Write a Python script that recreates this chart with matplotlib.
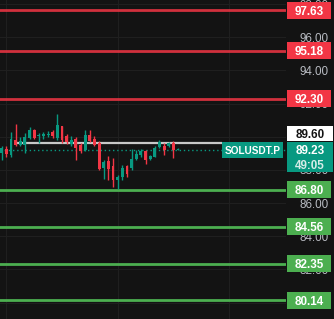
import matplotlib.pyplot as plt
from matplotlib.patches import Rectangle
from matplotlib.transforms import blended_transform_factory

# candles (oldest -> newest)
opens = [89.02, 89.28, 88.92, 89.82, 89.52, 89.52, 89.92, 90.43, 90.02, 90.06,
         90.08, 90.29, 89.92, 90.67, 90.02, 89.58, 89.86, 89.52, 89.22, 90.12,
         89.86, 89.62, 88.11, 88.51, 88.21, 87.40, 87.60, 88.21, 88.11, 88.66,
         88.92, 89.12, 88.66, 88.81, 89.38, 89.46, 89.42, 89.62, 89.22]
highs = [89.42, 89.42, 90.29, 90.79, 89.98, 90.23, 90.59, 90.47, 90.23, 90.29,
         90.33, 90.39, 91.39, 90.67, 90.17, 90.06, 89.98, 89.62, 90.43, 90.43,
         90.02, 89.72, 88.61, 88.86, 88.72, 87.70, 88.31, 88.31, 89.26, 89.22,
         89.26, 89.22, 88.92, 89.42, 89.82, 89.62, 89.66, 89.72, 89.30]
lows = [88.61, 88.81, 88.81, 89.42, 89.42, 89.02, 89.86, 89.86, 89.62, 89.86,
        89.98, 89.92, 89.82, 89.62, 89.58, 89.46, 88.61, 89.02, 89.12, 89.66,
        89.42, 87.97, 87.44, 87.40, 87.00, 86.84, 87.40, 87.60, 88.01, 88.57,
        88.81, 88.37, 88.61, 88.78, 89.32, 88.92, 89.38, 88.72, 89.18]
closes = [89.32, 88.98, 89.86, 89.52, 89.72, 89.98, 90.43, 89.92, 90.12, 90.17,
          90.17, 90.02, 90.73, 89.82, 89.66, 89.82, 89.32, 89.12, 90.12, 89.72,
          89.52, 88.05, 88.45, 88.05, 87.40, 87.60, 88.11, 87.76, 88.66, 88.98,
          89.12, 88.61, 88.86, 89.32, 89.66, 89.18, 89.62, 89.22, 89.23]

red_levels = [97.63, 95.18, 92.30]
green_levels = [86.80, 84.56, 82.35, 80.14]
alert_price = 89.60
last_price = 89.23
countdown = "49:05"
symbol = "SOLUSDT.P"
price_ticks = [80, 82, 84, 86, 88, 90, 92, 94, 96, 98]
time_ticks = [1, 25, 49]

BG = "#131313"
GRID = "#1f1f1f"
UP = "#089981"
DOWN = "#F23645"
RED = "#F23645"
GREEN = "#4CAF50"
FONT = "Liberation Sans"

fig = plt.figure(figsize=(3.34, 3.19), dpi=100, facecolor=BG)
ax = fig.add_axes([0, 0, 286 / 334, 1])
ax.set_facecolor(BG)
ax.set_xlim(-0.36, 61.28)
ax.set_ylim(79.01, 98.25)
ax.set_axisbelow(True)

ax.set_yticks(price_ticks)
ax.set_yticklabels([f"{t:.2f}" for t in price_ticks])
ax.set_xticks(time_ticks)
ax.yaxis.tick_right()
ax.tick_params(axis="y", length=0, pad=10, labelsize=8.4, labelcolor="#b8bbc2")
ax.tick_params(axis="x", length=0, labelbottom=False)
for lab in ax.get_yticklabels():
    lab.set_fontfamily(FONT)
ax.grid(True, color=GRID, lw=0.8)
for s in ax.spines.values():
    s.set_visible(False)

# candles
for i, (o, h, l, c) in enumerate(zip(opens, highs, lows, closes)):
    col = UP if c >= o else DOWN
    ax.vlines(i, l, h, color=col, lw=1, zorder=3)
    ax.bar(i, max(abs(c - o), 0.04), bottom=min(o, c), width=0.62,
           color=col, zorder=3)

# alert line and last price line
ax.hlines(alert_price, 3, 47.5, color="#c8c8c8", lw=1.6, zorder=2)
ax.axhline(last_price, color=UP, lw=1, ls=(0, (1, 2)), zorder=2)

for lv in red_levels:
    ax.axhline(lv, color=RED, lw=2, alpha=0.85, zorder=2)
for lv in green_levels:
    ax.axhline(lv, color=GREEN, lw=2, zorder=2)

tr = blended_transform_factory(ax.transAxes, ax.transData)
px = 1 / 16.58  # one pixel in price units
bx, bw = 287 / 286, 44 / 286


def box(y, txt, fc, tc="white", x0=bx, w=bw, h=17, dy=0, fs=8.4):
    ax.add_patch(Rectangle((x0, y - h / 2 * px + dy * px), w, h * px,
                           transform=tr, facecolor=fc, edgecolor="none",
                           clip_on=False, zorder=5))
    ax.text(x0 + w / 2, y + dy * px, txt, transform=tr, ha="center",
            va="center_baseline", color=tc, fontsize=fs, family=FONT,
            fontweight="bold", clip_on=False, zorder=6)


for lv in red_levels:
    box(lv, f"{lv:.2f}", RED)
for lv in green_levels:
    box(lv, f"{lv:.2f}", GREEN)

# last price box with countdown
ax.add_patch(Rectangle((bx, last_price - 22 * px), 46 / 286, 30 * px,
                       transform=tr, facecolor=UP, edgecolor="none",
                       clip_on=False, zorder=5))
ax.text(bx + 23 / 286, last_price, f"{last_price:.2f}", transform=tr,
        ha="center", va="center_baseline", color="white", fontsize=8.4,
        family=FONT, fontweight="bold", clip_on=False, zorder=6)
ax.text(bx + 23 / 286, last_price - 15 * px, countdown, transform=tr,
        ha="center", va="center_baseline", color="#d6ece8", fontsize=8.4,
        family=FONT, fontweight="bold", clip_on=False, zorder=6)

# alert price box (pushed above the last price box)
box(alert_price, f"{alert_price:.2f}", "white", tc="#131313", w=46 / 286,
    h=15, dy=10.3)

# symbol label
box(last_price, symbol, UP, x0=222 / 286, w=61 / 286, h=16, fs=7.2)

fig.savefig("out.png", dpi=100, facecolor=BG)
